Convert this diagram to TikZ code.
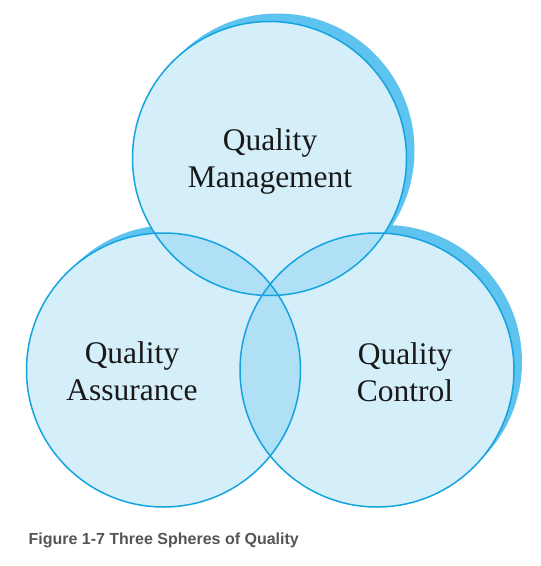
\documentclass[tikz,border=0pt]{standalone}
\usepackage{fontspec}
\setmainfont{Liberation Serif}
\newfontfamily\capfont{Liberation Sans}
\usetikzlibrary{positioning}
\definecolor{ringblue}{HTML}{15A4E0}
\definecolor{sphereblue}{HTML}{00A0E6}
\definecolor{shadeblue}{HTML}{5EC3EE}
\definecolor{capgray}{HTML}{555555}

\begin{document}
\begin{tikzpicture}[x=1pt, y=-1pt,
  shadow/.style={fill=shadeblue},
  base/.style={fill=white},
  sphere/.style={fill=sphereblue, fill opacity=0.17},
  ring/.style={draw=ringblue, line width=1.5pt},
  label/.style={align=center, font=\fontsize{31.5}{37}\selectfont, text=black!90},
  caption/.style={anchor=west, font=\capfont\bfseries\fontsize{16}{19}\selectfont, text=capgray}]
\useasboundingbox (0,0) rectangle (541,566);
\coordinate (cm) at (269.5,158.5);
\coordinate (ca) at (163.5,370);
\coordinate (cc) at (377,370);
% drop shadows, then the spheres
\foreach \c in {cm,ca,cc} \fill[shadow] ([shift={(8,-8)}]\c) circle (137);
\foreach \c in {cm,ca,cc} \fill[base] (\c) circle (137);
\foreach \c in {cm,ca,cc} \fill[sphere] (\c) circle (137);
\foreach \c in {cm,ca,cc} \draw[ring] (\c) circle (137);
\node[label] (qm) at (270,161) {Quality\\Management};
\node[label] (qa) at (132,371) {Quality\\Assurance};
\node[label] (qc) at (405,372) {Quality\\Control};
\node[caption] (fig) at (25,540) {Figure 1-7 Three Spheres of Quality};
\end{tikzpicture}
\end{document}
